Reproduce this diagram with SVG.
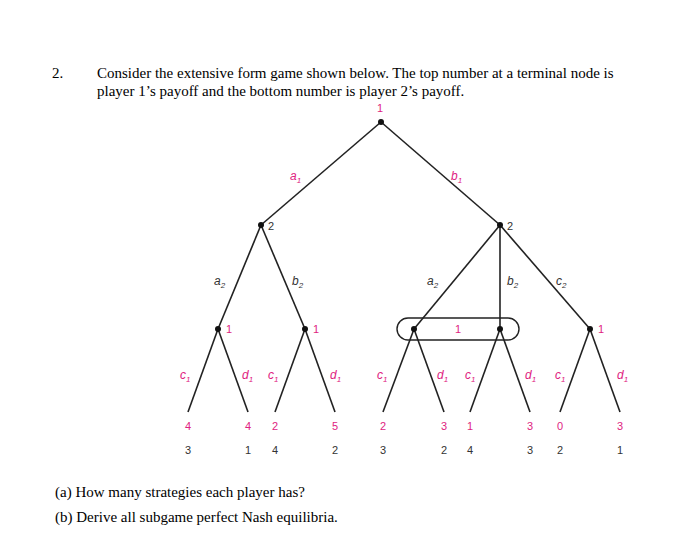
<svg xmlns="http://www.w3.org/2000/svg" width="700" height="543" viewBox="0 0 700 543">
<style>
.t{font-family:"Liberation Serif",serif;font-size:15px;fill:#000}
.p{font-family:"Liberation Sans",sans-serif;font-size:11px;fill:#e0237f}
.k{font-family:"Liberation Sans",sans-serif;font-size:11px;fill:#333}
.pi{font-family:"Liberation Sans",sans-serif;font-size:12px;fill:#e0237f;font-style:italic}
.ki{font-family:"Liberation Sans",sans-serif;font-size:12px;fill:#333;font-style:italic}
.e{stroke:#222;stroke-width:1.6;fill:none}
</style>
<rect width="700" height="543" fill="#fff"/>
<text class="t" x="52" y="78">2.</text>
<text class="t" x="97" y="78">Consider the extensive form game shown below. The top number at a terminal node is</text>
<text class="t" x="97" y="96">player 1’s payoff and the bottom number is player 2’s payoff.</text>
<text class="t" x="55" y="497">(a) How many strategies each player has?</text>
<text class="t" x="55" y="522">(b) Derive all subgame perfect Nash equilibria.</text>
<g id="connectors" class="e">
<line x1="381" y1="122" x2="261" y2="225"/><line x1="381" y1="122" x2="500" y2="225"/>
<line x1="261" y1="225" x2="218" y2="329"/><line x1="261" y1="225" x2="305" y2="329"/>
<line x1="500" y1="225" x2="414" y2="329"/><line x1="500" y1="225" x2="500" y2="329"/><line x1="500" y1="225" x2="590" y2="329"/>
<line x1="218" y1="329" x2="188" y2="412"/><line x1="218" y1="329" x2="248" y2="412"/>
<line x1="305" y1="329" x2="275" y2="412"/><line x1="305" y1="329" x2="335" y2="412"/>
<line x1="414" y1="329" x2="383" y2="412"/><line x1="414" y1="329" x2="444" y2="412"/>
<line x1="500" y1="329" x2="470" y2="412"/><line x1="500" y1="329" x2="530" y2="412"/>
<line x1="590" y1="329" x2="560" y2="412"/><line x1="590" y1="329" x2="620" y2="412"/>
<rect x="397" y="318" width="122" height="22" rx="11" stroke-width="1.4"/>
</g>
<g id="nodes" fill="#111">
<g id="n0"><circle cx="381" cy="122" r="3"/><text class="p" x="377" y="112">1</text></g>
<g id="n1"><circle cx="261" cy="225" r="3"/><text class="k" x="268" y="230">2</text></g>
<g id="n2"><circle cx="500" cy="225" r="3"/><text class="k" x="507" y="230">2</text></g>
<g id="n3"><circle cx="218" cy="329" r="3"/><text class="p" x="226" y="333">1</text></g>
<g id="n4"><circle cx="305" cy="329" r="3"/><text class="p" x="313" y="333">1</text></g>
<g id="n5"><circle cx="414" cy="329" r="3"/></g>
<g id="n6"><circle cx="500" cy="329" r="3"/></g>
<text class="p" x="455" y="333">1</text>
<g id="n7"><circle cx="590" cy="329" r="3"/><text class="p" x="598" y="333">1</text></g>
</g>
<g id="labels">
<text class="pi" x="290" y="180">a<tspan font-size="8" dy="3">1</tspan></text>
<text class="pi" x="451" y="180">b<tspan font-size="8" dy="3">1</tspan></text>
<text class="ki" x="214" y="285">a<tspan font-size="8" dy="3">2</tspan></text>
<text class="ki" x="292" y="285">b<tspan font-size="8" dy="3">2</tspan></text>
<text class="ki" x="427" y="285">a<tspan font-size="8" dy="3">2</tspan></text>
<text class="ki" x="507" y="285">b<tspan font-size="8" dy="3">2</tspan></text>
<text class="ki" x="556" y="285">c<tspan font-size="8" dy="3">2</tspan></text>
<g class="pi">
<text x="180" y="379">c<tspan font-size="8" dy="3">1</tspan></text>
<text x="242" y="379">d<tspan font-size="8" dy="3">1</tspan></text>
<text x="268" y="379">c<tspan font-size="8" dy="3">1</tspan></text>
<text x="330" y="379">d<tspan font-size="8" dy="3">1</tspan></text>
<text x="377" y="379">c<tspan font-size="8" dy="3">1</tspan></text>
<text x="437" y="379">d<tspan font-size="8" dy="3">1</tspan></text>
<text x="465" y="379">c<tspan font-size="8" dy="3">1</tspan></text>
<text x="525" y="379">d<tspan font-size="8" dy="3">1</tspan></text>
<text x="555" y="379">c<tspan font-size="8" dy="3">1</tspan></text>
<text x="617" y="379">d<tspan font-size="8" dy="3">1</tspan></text>
</g>
<g class="p" text-anchor="middle">
<text x="188" y="430">4</text><text x="248" y="430">4</text><text x="275" y="430">2</text><text x="335" y="430">5</text>
<text x="383" y="430">2</text><text x="444" y="430">3</text><text x="470" y="430">1</text><text x="530" y="430">3</text>
<text x="560" y="430">0</text><text x="620" y="430">3</text>
</g>
<g class="k" text-anchor="middle">
<text x="188" y="454">3</text><text x="248" y="454">1</text><text x="275" y="454">4</text><text x="335" y="454">2</text>
<text x="383" y="454">3</text><text x="444" y="454">2</text><text x="470" y="454">4</text><text x="530" y="454">3</text>
<text x="560" y="454">2</text><text x="620" y="454">1</text>
</g>
</g>
</svg>
